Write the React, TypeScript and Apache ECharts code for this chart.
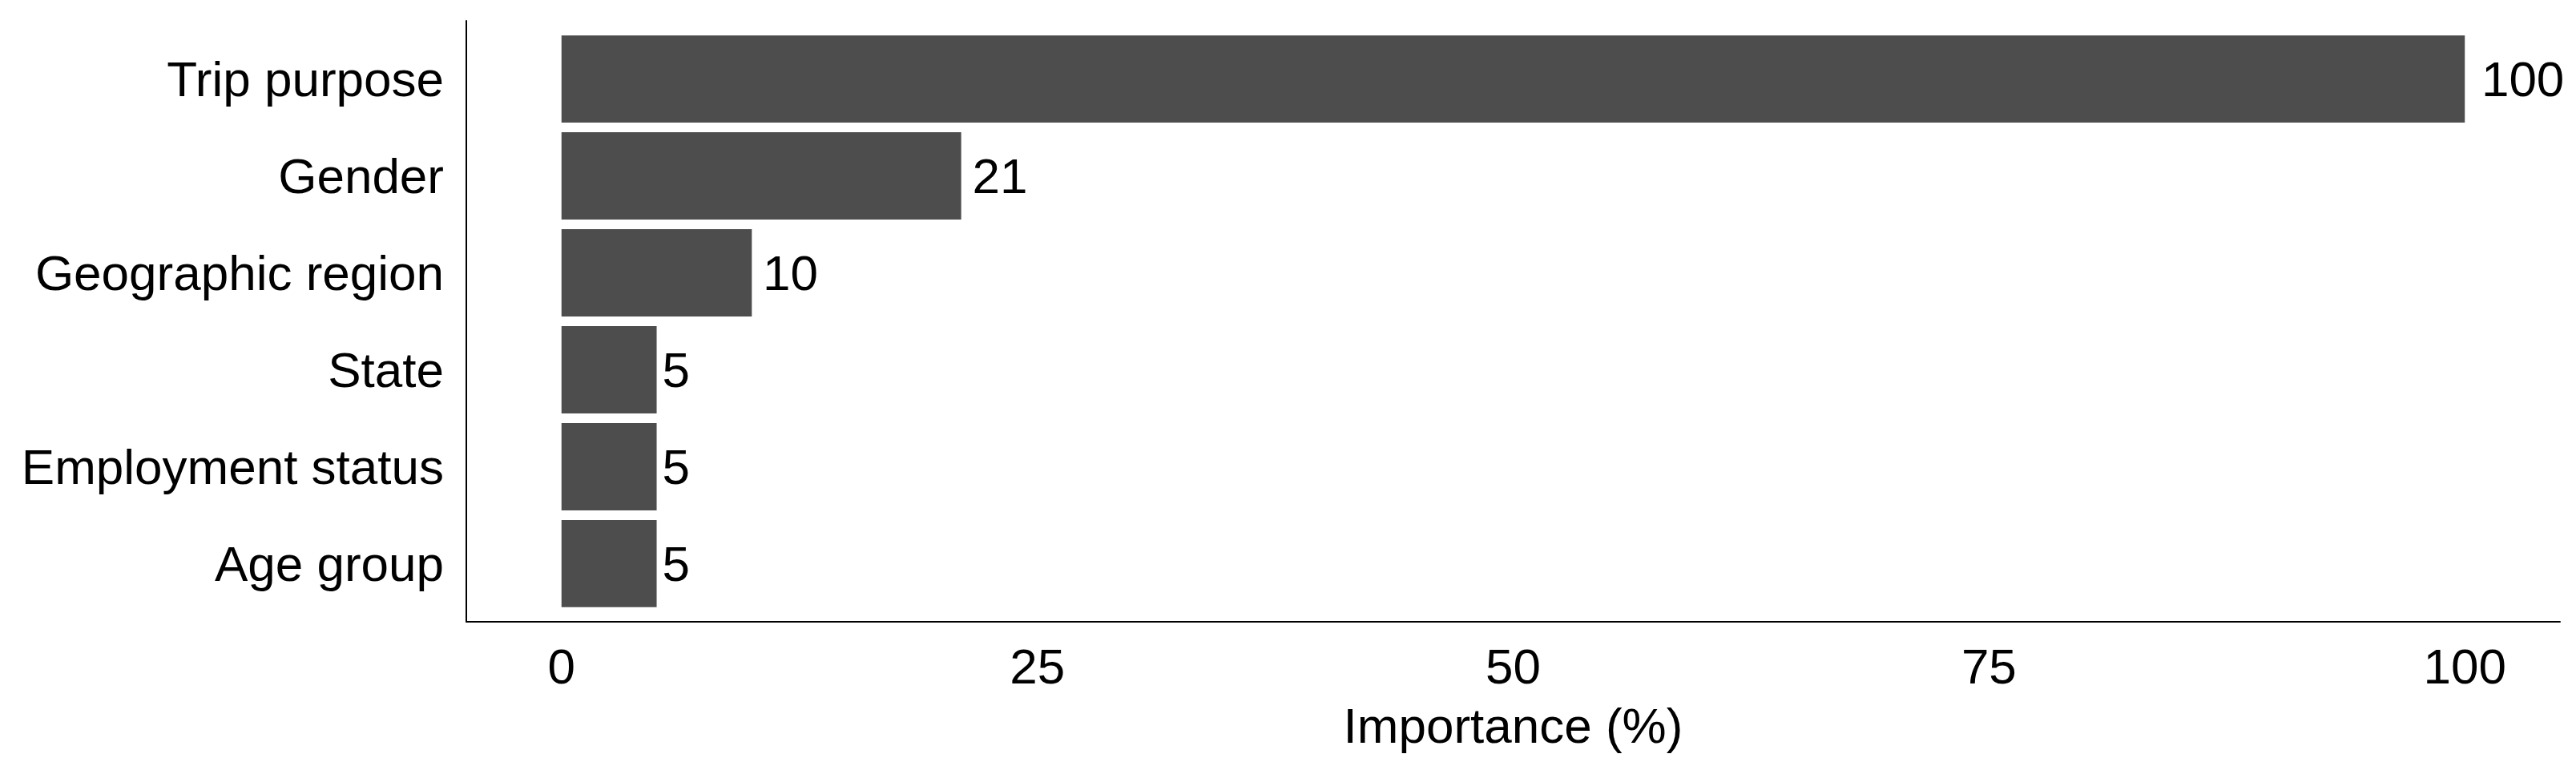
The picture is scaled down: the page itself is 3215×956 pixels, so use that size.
import React, { useEffect, useRef } from "react";
import * as echarts from "echarts";

const categories: string[] = [
  "Trip purpose",
  "Gender",
  "Geographic region",
  "State",
  "Employment status",
  "Age group",
];
const importance: number[] = [100, 21, 10, 5, 5, 5];
const xTicks: number[] = [0, 25, 50, 75, 100];
const xAxisTitle = "Importance (%)";

const FONT = "'Liberation Sans', Arial, Helvetica, sans-serif";
const FS = 62;
const W = 3215;
const H = 956;

export default function App() {
  const ref = useRef<HTMLDivElement>(null);

  useEffect(() => {
    document.body.style.margin = "0";
    if (!ref.current) return;
    const chart = echarts.init(ref.current, undefined, { renderer: "svg" });

    const left = 582;
    const right = W - 3195;
    const top = 26;
    const bottom = H - 776;
    const panelH = H - top - bottom;
    const unit = panelH / (categories.length - 1 + 1.2);
    const barTop = top + unit * 0.1;
    const barH = unit * categories.length;

    const option: echarts.EChartsOption = {
      animation: false,
      backgroundColor: "#ffffff",
      grid: [
        { left, right, top, bottom, containLabel: false },
        { left, right, top: barTop, height: barH, containLabel: false },
      ],
      xAxis: [
        {
          type: "value",
          gridIndex: 0,
          min: -5,
          max: 105,
          name: xAxisTitle,
          nameLocation: "middle",
          nameGap: 98,
          nameTextStyle: { fontFamily: FONT, fontSize: FS, color: "#000" },
          axisLine: { show: true, onZero: false, lineStyle: { color: "#000", width: 2 } },
          axisTick: { show: false },
          splitLine: { show: false },
          axisLabel: {
            customValues: xTicks,
            margin: 24,
            fontFamily: FONT,
            fontSize: FS,
            color: "#000",
          },
        },
        {
          type: "value",
          gridIndex: 1,
          min: -5,
          max: 105,
          show: false,
        },
      ],
      yAxis: [
        {
          type: "value",
          gridIndex: 0,
          min: 0,
          max: 1,
          axisLine: { show: true, onZero: false, lineStyle: { color: "#000", width: 2 } },
          axisTick: { show: false },
          axisLabel: { show: false },
          splitLine: { show: false },
        },
        {
          type: "category",
          gridIndex: 1,
          data: categories,
          inverse: true,
          axisLine: { show: false },
          axisTick: { show: false },
          splitLine: { show: false },
          axisLabel: {
            margin: 28,
            fontFamily: FONT,
            fontSize: FS,
            color: "#000",
          },
        },
      ],
      series: [
        {
          type: "bar",
          xAxisIndex: 1,
          yAxisIndex: 1,
          barWidth: "90%",
          itemStyle: { color: "#4D4D4D" },
          data: importance.map((v) => ({
            value: v,
            label: {
              show: true,
              position: "right",
              distance: 0.2 * String(v).length * 0.556 * FS,
              fontFamily: FONT,
              fontSize: FS,
              color: "#000",
            },
          })),
        },
      ],
    };

    chart.setOption(option);
    return () => chart.dispose();
  }, []);

  return <div ref={ref} style={{ width: W, height: H }} />;
}
